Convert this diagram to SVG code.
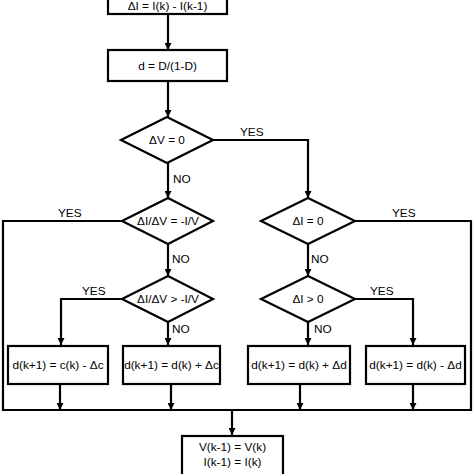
<svg xmlns="http://www.w3.org/2000/svg" width="474" height="474" viewBox="0 0 474 474">
<style>
.n{fill:#fff;stroke:#000;stroke-width:2.2}
.c{fill:none;stroke:#000;stroke-width:2.2}
text{font-family:"Liberation Sans",Arial,sans-serif;font-size:11.8px;fill:#000}
.m{text-anchor:middle}
</style>
<defs>
<marker id="ah" viewBox="0 0 10 10" refX="10" refY="5" markerWidth="7" markerHeight="7" markerUnits="userSpaceOnUse" orient="auto">
<path d="M0,0 L10,5 L0,10 Z" fill="#000"/>
</marker>
</defs>
<rect width="474" height="474" fill="#fff"/>
<g id="connectors">
<path class="c" d="M168,14 V50" marker-end="url(#ah)"/>
<path class="c" d="M168,81 V117" marker-end="url(#ah)"/>
<path class="c" d="M168,163 V198" marker-end="url(#ah)"/>
<path class="c" d="M213,140 H308 V198" marker-end="url(#ah)"/>
<path class="c" d="M168,244 V276" marker-end="url(#ah)"/>
<path class="c" d="M122,221 H3 V410 H471 V221 H355"/>
<path class="c" d="M122,299 H61 V345" marker-end="url(#ah)"/>
<path class="c" d="M168,322 V345" marker-end="url(#ah)"/>
<path class="c" d="M308,244 V276" marker-end="url(#ah)"/>
<path class="c" d="M355,299 H413 V345" marker-end="url(#ah)"/>
<path class="c" d="M308,322 V345" marker-end="url(#ah)"/>
<path class="c" d="M60,384 V410" marker-end="url(#ah)"/>
<path class="c" d="M171,384 V410" marker-end="url(#ah)"/>
<path class="c" d="M300,384 V410" marker-end="url(#ah)"/>
<path class="c" d="M413,384 V410" marker-end="url(#ah)"/>
<path class="c" d="M232,410 V435" marker-end="url(#ah)"/>
<text x="240" y="136">YES</text>
<text x="173" y="183">NO</text>
<text x="58" y="217">YES</text>
<text x="172" y="263">NO</text>
<text x="82" y="295">YES</text>
<text x="172" y="333">NO</text>
<text x="392" y="217">YES</text>
<text x="311" y="263">NO</text>
<text x="370" y="295">YES</text>
<text x="314" y="333">NO</text>
</g>
<g id="n1"><rect class="n" x="108" y="-20" width="119" height="34"/><text class="m" x="167.5" y="10">ΔI = I(k) - I(k-1)</text></g>
<g id="n2"><rect class="n" x="108" y="50" width="119" height="31"/><text class="m" x="167.5" y="70">d = D/(1-D)</text></g>
<g id="n3"><polygon class="n" points="121,140 167,117 213,140 167,163"/><text class="m" x="167" y="144">ΔV = 0</text></g>
<g id="n4"><polygon class="n" points="122,221 168,198 213,221 168,244"/><text class="m" x="168" y="225">ΔI/ΔV = -I/V</text></g>
<g id="n5"><polygon class="n" points="122,299 168,276 213,299 168,322"/><text class="m" x="168" y="303">ΔI/ΔV &gt; -I/V</text></g>
<g id="n6"><polygon class="n" points="261,221 308,198 355,221 308,244"/><text class="m" x="308" y="225">ΔI = 0</text></g>
<g id="n7"><polygon class="n" points="261,299 308,276 355,299 308,322"/><text class="m" x="308" y="303">ΔI &gt; 0</text></g>
<g id="n8"><rect class="n" x="8" y="346" width="100" height="38"/><text class="m" x="58" y="369">d(k+1) = c(k) - Δc</text></g>
<g id="n9"><rect class="n" x="123" y="346" width="97" height="38"/><text class="m" x="171.5" y="369">d(k+1) = d(k) + Δc</text></g>
<g id="n10"><rect class="n" x="248" y="346" width="102" height="38"/><text class="m" x="299" y="369">d(k+1) = d(k) + Δd</text></g>
<g id="n11"><rect class="n" x="366" y="346" width="99" height="38"/><text class="m" x="415.5" y="369">d(k+1) = d(k) - Δd</text></g>
<g id="n12"><rect class="n" x="182" y="436" width="101" height="44"/><text class="m" x="232.5" y="451">V(k-1) = V(k)</text><text class="m" x="232.5" y="466">I(k-1) = I(k)</text></g>
</svg>
